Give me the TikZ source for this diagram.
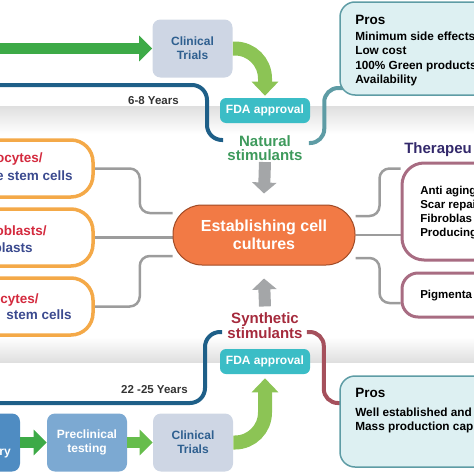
\documentclass[tikz,border=0pt]{standalone}
\usepackage{fontspec}
\setmainfont{Liberation Sans}
\usetikzlibrary{positioning, arrows.meta, backgrounds}

\definecolor{trialfill}{HTML}{CED6E4}
\definecolor{trialblue}{HTML}{2E5F8F}
\definecolor{darkgreen}{HTML}{3DAA47}
\definecolor{midgreen}{HTML}{66BD4C}
\definecolor{lightgreen}{HTML}{8CC455}
\definecolor{fdateal}{HTML}{3BBDC6}
\definecolor{natgreen}{HTML}{3E9A5C}
\definecolor{synred}{HTML}{A52A3C}
\definecolor{yearblue}{HTML}{1E5F88}
\definecolor{prosfill}{HTML}{DDF0F2}
\definecolor{prosline}{HTML}{5E9CA5}
\definecolor{linkred}{HTML}{A5505C}
\definecolor{cultorange}{HTML}{F27A45}
\definecolor{cultedge}{HTML}{A04A25}
\definecolor{arrowgrey}{HTML}{A4A6A8}
\definecolor{linkgrey}{HTML}{9C9C9C}
\definecolor{cellorange}{HTML}{F4A948}
\definecolor{cellred}{HTML}{D42A3E}
\definecolor{cellblue}{HTML}{3B4A8F}
\definecolor{therapurple}{HTML}{33296B}
\definecolor{theramauve}{HTML}{A86C82}
\definecolor{preblue}{HTML}{7CA9D2}
\definecolor{discblue}{HTML}{4F8CC2}
\definecolor{yeartext}{HTML}{333333}

\begin{document}
\begin{tikzpicture}[x=1pt, y=-1pt, semithick,
    stage/.style={rounded corners=8pt, minimum width=80pt, minimum height=58pt, align=center, font=\fontsize{12}{14}\selectfont\bfseries},
    fda/.style={rounded corners=6pt, fill=fdateal, text=white, minimum width=90pt, minimum height=25pt, font=\fontsize{12}{14}\selectfont\bfseries},
    stim/.style={align=center, inner sep=1pt, font=\fontsize{15}{14.5}\selectfont\bfseries},
    cellbox/.style={draw=cellorange, fill=white, line width=3.5pt, rounded corners=22pt, minimum width=153pt, minimum height=57pt},
    celltxt/.style={anchor=base east, inner sep=0pt, font=\fontsize{13.5}{16}\selectfont\bfseries},
    therabox/.style={draw=theramauve, fill=white, line width=3pt, minimum width=158pt},
    prosbox/.style={draw=prosline, fill=prosfill, line width=1.5pt, rounded corners=15pt, minimum width=200pt},
    prostxt/.style={anchor=base west, inner sep=0pt, font=\fontsize{11.8}{14}\selectfont\bfseries},
    proshead/.style={prostxt, font=\fontsize{13.5}{16}\selectfont\bfseries},
    years/.style={anchor=base east, inner sep=0pt, text=yeartext, font=\fontsize{11.5}{14}\selectfont\bfseries},
    bigarrow/.style={line width=11pt, -{Triangle[length=13pt, width=25pt]}},
    bendarrow/.style={line width=14pt, lightgreen, rounded corners=30pt, -{Triangle[length=14pt, width=26pt]}},
    greyarrow/.style={line width=12pt, arrowgrey, -{Triangle[length=11pt, width=24pt]}},
    bracket/.style={line width=4pt, yearblue, rounded corners=15pt},
    link/.style={line width=2.5pt, linkgrey, rounded corners=10pt},
    proslink/.style={line width=4pt, rounded corners=14pt}]

  \useasboundingbox (0,0) rectangle (474,474);
  \clip (0,0) rectangle (474,474);

  % natural route
  \coordinate (src) at (-5,48.5);
  \node[stage, fill=trialfill, text=trialblue] (trialA) at (192.5,48.5) {Clinical\\Trials};
  \node[fda] (fdaA) at (265,110.5) {FDA approval};
  \node[stim, text=natgreen] (nat) at (265,148) {Natural\\stimulants};
  \node[years] (yrsA) at (179,104) {6-8 Years};
  \node[prosbox, minimum height=93pt] (prosA) at (440,48.5) {};
  \node[proshead] (prosAh) at (355,24) {Pros};
  \foreach \t [count=\i] in {Minimum side effects, Low cost, 100\% Green products, Availability}
    \node[prostxt] (prosA\i) at (355,25.5+14.5*\i) {\t};

  % cell cultures
  \node[rounded corners=29pt, fill=cultorange, draw=cultedge, line width=1pt, minimum width=182pt, minimum height=60pt,
        align=center, text=white, font=\fontsize{16}{18}\selectfont\bfseries] (cult) at (264,235) {Establishing cell\\cultures};

  \node[cellbox] (cellA) at (16.5,168.5) {};
  \node[cellbox] (cellB) at (16.5,237.5) {};
  \node[cellbox] (cellC) at (16.5,306.5) {};
  \node[celltxt, text=cellred] (cellA1) at (43,162) {ocytes/};
  \node[celltxt, text=cellblue] (cellA2) at (73,180) {e stem cells};
  \node[celltxt, text=cellred] (cellB1) at (47,235) {oblasts/};
  \node[celltxt, text=cellblue] (cellB2) at (33,252) {blasts};
  \node[celltxt, text=cellred] (cellC1) at (39,303) {ocytes/};
  \node[celltxt, text=cellblue] (cellC2) at (72,319) {stem cells};

  \node[anchor=base west, inner sep=0pt, text=therapurple, font=\fontsize{15}{18}\selectfont\bfseries] (thera) at (404,153) {Therapeu};
  \node[therabox, rounded corners=22pt, minimum height=97pt] (theraA) at (481,211.5) {};
  \foreach \t [count=\i] in {Anti aging, Scar repai, Fibroblas, Producing}
    \node[prostxt, font=\fontsize{11.5}{14}\selectfont\bfseries] (theraA\i) at (420,179.7+14.3*\i) {\t};
  \node[therabox, rounded corners=16pt, minimum height=44pt] (theraB) at (481,295) {};
  \node[prostxt, font=\fontsize{11.5}{14}\selectfont\bfseries] (theraB1) at (420,298) {Pigmenta};

  % synthetic route
  \node[stage, fill=discblue] (disc) at (-20,442.5) {};
  \node[anchor=base east, inner sep=0pt, text=white, font=\fontsize{12}{14}\selectfont\bfseries] (discT) at (11,455) {ry};
  \node[stage, fill=preblue, text=white] (pre) at (87,442.5) {Preclinical\\testing};
  \node[stage, fill=trialfill, text=trialblue] (trialB) at (193,442.5) {Clinical\\Trials};
  \node[fda] (fdaB) at (265,361.5) {FDA approval};
  \node[stim, text=synred] (syn) at (265,325.5) {Synthetic\\stimulants};
  \node[years] (yrsB) at (188,393) {22 -25 Years};
  \node[prosbox, minimum height=91pt] (prosB) at (440,421.5) {};
  \node[proshead] (prosBh) at (355,397) {Pros};
  \foreach \t [count=\i] in {Well established and, Mass production cap}
    \node[prostxt] (prosB\i) at (355,402+14*\i) {\t};

  % arrows
  \draw[bigarrow, darkgreen] (src) -- (trialA.west);
  \draw[bendarrow] (trialA.east) -| ([yshift=2pt]fdaA.north);
  \draw[bigarrow, darkgreen] (disc.east) -- (pre.west);
  \draw[bigarrow, midgreen] (pre.east) -- (trialB.west);
  \draw[bendarrow] (trialB.east) -| ([yshift=-4pt]fdaB.south);
  \draw[greyarrow] (nat.south) -- ([yshift=11pt]cult.north);
  \draw[greyarrow] ([yshift=5pt]syn.north) -- ([yshift=-13pt]cult.south);

  \begin{scope}[on background layer]
    \shade[top color=gray!25, bottom color=white] (0,106) rectangle (474,134);
    \shade[top color=white, bottom color=gray!25] (0,337) rectangle (474,362);
    \draw[bracket] (0,85) -- (207,85) -- (207,140) -- ([xshift=-3pt,yshift=8pt]nat.west);
    \draw[bracket] (0,403) -- (205,403) -- (205,332) -- ([xshift=-4pt,yshift=-6.5pt]syn.west);
    \draw[proslink, prosline] ([shift={(20pt,-39.5pt)}]prosA.west) -- ++(-35,0) |- ([xshift=5pt,yshift=5pt]nat.east);
    \draw[proslink, linkred] ([xshift=3pt,yshift=-6.5pt]syn.east) -- ++(17,0) |- ([xshift=20pt,yshift=18.5pt]prosB.west);
    \draw[link] (cellA.east) -- ++(45,0) |- ([yshift=22pt]cult.west);
    \draw[link] (cellB.east) -- (cult.west |- cellB.east);
    \draw[link] (cellC.east) -- ++(45,0) |- ([yshift=-21pt]cult.west);
    \draw[link] ([yshift=19pt]cult.east) -- ++(24,0) |- ([yshift=43pt]theraA.west);
    \draw[link] (cult.east) -- (theraA.west |- cult.east);
    \draw[link] ([yshift=-23pt]cult.east) -- ++(24,0) |- ([yshift=-8pt]theraB.west);
  \end{scope}
\end{tikzpicture}
\end{document}
